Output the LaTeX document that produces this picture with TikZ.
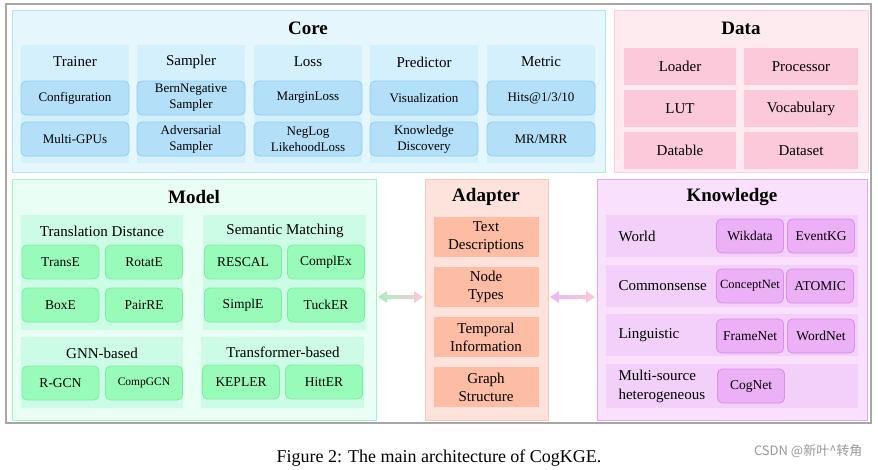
\documentclass[tikz,border=0pt]{standalone}
\usepackage{fontspec}
\setmainfont{Liberation Serif}
\newfontfamily\cjk{Noto Sans CJK SC}
\usetikzlibrary{arrows.meta}
\definecolor{coreF}{HTML}{E6F6FD}\definecolor{coreB}{HTML}{B3E3F9}
\definecolor{coreC}{HTML}{D3F0FC}\definecolor{coreI}{HTML}{B3E0F8}\definecolor{coreIB}{HTML}{8CCFF5}
\definecolor{dataF}{HTML}{FDEBF0}\definecolor{dataB}{HTML}{FBCFDC}\definecolor{dataI}{HTML}{FCC9DA}
\definecolor{modF}{HTML}{E9FEF5}\definecolor{modB}{HTML}{A6F2C8}\definecolor{modG}{HTML}{CCFCE6}
\definecolor{modI}{HTML}{99FBB9}\definecolor{modIB}{HTML}{7FEBA2}
\definecolor{adF}{HTML}{FDE3DC}\definecolor{adB}{HTML}{FBC7B4}\definecolor{adI}{HTML}{FDBDA4}
\definecolor{knF}{HTML}{F9E0FC}\definecolor{knB}{HTML}{E3A8F0}\definecolor{knR}{HTML}{F2D0F9}
\definecolor{knI}{HTML}{EBB0F5}\definecolor{knIB}{HTML}{DC8BEE}
\definecolor{arG}{HTML}{A8F0C0}\definecolor{arP}{HTML}{FBC8D6}\definecolor{arV}{HTML}{EDB8F5}
\tikzset{
 box/.style={draw=#1,line width=1pt,inner sep=0pt},
 ttl/.style={font=\fontsize{19}{21}\selectfont\bfseries},
 hdr/.style={font=\fontsize{15}{17}\selectfont},
 itm/.style={rounded corners=5pt,draw=#1,line width=0.8pt,font=\fontsize{13.5}{14}\selectfont,align=center,inner sep=1pt},
 cell/.style={font=\fontsize{15}{17}\selectfont,align=center,inner sep=1pt},
}
% double arrow polygon: x1,x2,y
\newcommand{\dblarrow}[5]{\shade[left color=#4,right color=#5] (#1,#3) -- (#1+9,#3-6) -- (#1+9,#3-2) -- (#2-9,#3-2) -- (#2-9,#3-6) -- (#2,#3) -- (#2-9,#3+6) -- (#2-9,#3+2) -- (#1+9,#3+2) -- (#1+9,#3+6) -- cycle;}
\begin{document}
\begin{tikzpicture}[x=1pt,y=-1pt]
\useasboundingbox (0,0) rectangle (878,469);
\fill[white] (0,0) rectangle (878,469);
\draw[gray!70,line width=1.2pt] (6,4) rectangle (871,423);
% Core
\node[box=coreB,fill=coreF,minimum width=593,minimum height=162] (core) at (308.5,91) {};
\node[ttl] (coreT) at (308,28) {Core};
\foreach \x/\h/\a/\b [count=\i] in {21/Trainer/Configuration/Multi-GPUs,137/Sampler/{BernNegative\\Sampler}/{Adversarial\\Sampler},254/Loss/MarginLoss/{NegLog\\LikehoodLoss},370/Predictor/Visualization/{Knowledge\\Discovery},487/Metric/{Hits@1/3/10}/{MR/MRR}}{
 \fill[coreC] (\x,45) rectangle (\x+108,163);
 \node[hdr] (ch\i) at (\x+54,62) {\h};
 \node[itm=coreIB,fill=coreI,minimum width=108,minimum height=34,font=\fontsize{13}{16}\selectfont] (ca\i) at (\x+54,98) {\a};
 \node[itm=coreIB,fill=coreI,minimum width=108,minimum height=34,font=\fontsize{13}{16}\selectfont] (cb\i) at (\x+54,139) {\b};
}
% Data
\node[box=dataB,fill=dataF,minimum width=254,minimum height=162] (data) at (741,91) {};
\node[ttl] (dataT) at (741,28) {Data};
\foreach \y/\a/\b [count=\i] in {48/Loader/Processor,90/LUT/Vocabulary,132/Datable/Dataset}{
 \node[cell,fill=dataI,minimum width=112,minimum height=37] (da\i) at (680,\y+18.5) {\a};
 \node[cell,fill=dataI,minimum width=114,minimum height=37] (db\i) at (801,\y+18.5) {\b};
}
% Model
\node[box=modB,fill=modF,minimum width=364,minimum height=241] (model) at (194,299.5) {};
\node[ttl] (modelT) at (194,197) {Model};
\fill[modG] (21,215) rectangle (183,330);
\fill[modG] (203,215) rectangle (366,330);
\fill[modG] (21,337) rectangle (183,408);
\fill[modG] (201,337) rectangle (364,408);
\node[hdr] (g1) at (102,231) {Translation Distance};
\node[hdr] (g2) at (285,231) {Semantic Matching};
\node[hdr] (g3) at (102,353) {GNN-based};
\node[hdr] (g4) at (283,352) {Transformer-based};
\tikzset{mi/.style={itm=modIB,fill=modI,minimum width=77,minimum height=34}}
\node[mi] (m1) at (60.5,262) {TransE};
\node[mi] (m2) at (144,262) {RotatE};
\node[mi] (m3) at (60.5,305) {BoxE};
\node[mi] (m4) at (144,305) {PairRE};
\node[mi] (m5) at (243,262) {RESCAL};
\node[mi] (m6) at (326,262) {ComplEx};
\node[mi] (m7) at (243,305) {SimplE};
\node[mi] (m8) at (326,305) {TuckER};
\node[mi] (m9) at (60.5,383) {R-GCN};
\node[mi,font=\fontsize{11.5}{12}\selectfont] (m10) at (144,383) {CompGCN};
\node[mi] (m11) at (241,382) {KEPLER};
\node[mi] (m12) at (324,382) {HittER};
% Adapter
\node[box=adB,fill=adF,minimum width=123,minimum height=241] (adapter) at (486.5,299.5) {};
\node[ttl] (adT) at (486,197) {Adapter};
\foreach \y/\t [count=\i] in {217/{Text\\Descriptions},267/{Node\\Types},317/{Temporal\\Information},367/{Graph\\Structure}}{
 \node[cell,fill=adI,minimum width=105,minimum height=40,font=\fontsize{15}{18}\selectfont] (ad\i) at (486,\y+20) {\t};
}
% Knowledge
\node[box=knB,fill=knF,minimum width=270,minimum height=241] (know) at (732,299.5) {};
\node[ttl] (knT) at (732,197) {Knowledge};
\tikzset{ki/.style={itm=knIB,fill=knI,minimum width=67,minimum height=34}}
\foreach \y/\l [count=\i] in {215/World,265/Commonsense,314/Linguistic}{
 \fill[knR] (606,\y) rectangle (858,\y+42);
 \node[hdr,anchor=west] (kl\i) at (615,\y+21) {\l};
}
\fill[knR] (606,364) rectangle (858,408);
\node[hdr,anchor=west,align=left,font=\fontsize{15}{19}\selectfont] (kl4) at (615,386) {Multi-source\\heterogeneous};
\node[ki] (k1) at (750,236) {Wikdata};
\node[ki] (k2) at (821,236) {EventKG};
\node[ki,font=\fontsize{12.5}{13}\selectfont] (k3) at (750,286) {ConceptNet};
\node[ki] (k4) at (820,286) {ATOMIC};
\node[ki] (k5) at (750,336) {FrameNet};
\node[ki] (k6) at (821,336) {WordNet};
\node[ki] (k7) at (751,386) {CogNet};
% arrows (shaded double arrows between boxes)
\dblarrow{378}{423}{297}{arG}{arP}
\dblarrow{550}{595}{297}{arV}{arP}
% caption
\node[font=\fontsize{18}{20}\selectfont] (cap) at (439,458) {Figure 2: The main architecture of CogKGE.};
\node[font=\cjk\fontsize{13}{15}\selectfont,text=gray!80,anchor=east] (wm) at (866,451) {CSDN @新叶\^{}转角};
\end{tikzpicture}
\end{document}
